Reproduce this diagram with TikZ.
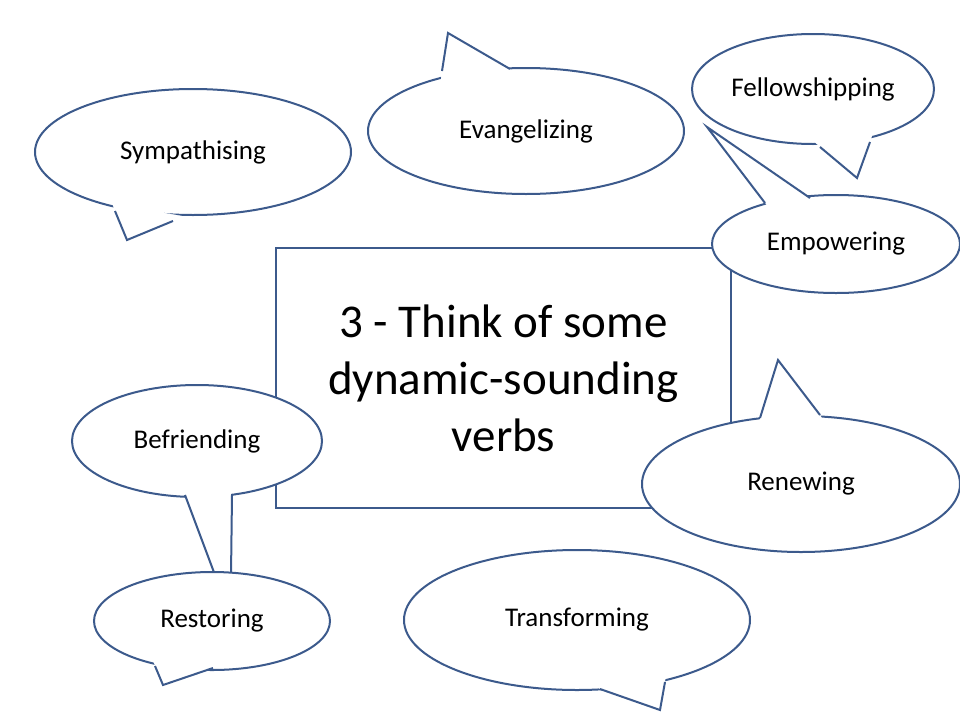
\documentclass[tikz,border=0pt]{standalone}
\usepackage{fontspec}
\setmainfont{Carlito}
\usetikzlibrary{calc}
\definecolor{bc}{RGB}{60,90,140}
\tikzset{ln/.style={draw=bc, line width=2pt},
  lbl/.style={font=\fontsize{27}{32}\selectfont}}
\newcommand\mycallout[8]{%
  \coordinate (#1-a) at #5; \coordinate (#1-t) at #6; \coordinate (#1-b) at #7;
  \fill[white] #2 ellipse (#3 and #4);
  \begin{scope}[even odd rule]
    \clip (-10,-10) rectangle (970,730) (#1-t) -- ($(#1-t)!1.25!(#1-a)$) -- ($(#1-t)!1.25!(#1-b)$) -- cycle;
    \draw[ln] #2 ellipse (#3 and #4);
  \end{scope}
  \fill[white] (#1-a) -- (#1-t) -- (#1-b) -- cycle;
  \draw[ln] (#1-a) -- (#1-t) -- (#1-b);
  \node[lbl] (#1) at #2 {#8};}
\begin{document}
\begin{tikzpicture}[x=1pt,y=-1pt]
\useasboundingbox (0,0) rectangle (960,720);
\node[ln, fill=white, minimum width=455pt, minimum height=260pt, align=center, font=\fontsize{47}{57}\selectfont, inner sep=0pt] (main) at (503.5,378) {3 - Think of some\\dynamic-sounding\\verbs};
\mycallout{s}{(193,152)}{158}{63}{(115,211)}{(127,240)}{(173,221)}{Sympathising}
\mycallout{ev}{(526,131)}{158}{63}{(442,71)}{(448,33)}{(510,69)}{Evangelizing}
\mycallout{f}{(813,89)}{121}{55}{(820,147)}{(857,178)}{(870,142)}{Fellowshipping}
\mycallout{em}{(836,244)}{124}{49}{(810,198)}{(707,127)}{(765,203)}{Empowering}
\mycallout{r}{(801,484)}{159}{68}{(760,418)}{(778,360)}{(820,415)}{Renewing}
% Befriending (tail reaching Restoring)
\coordinate (b-a) at (185,495); \coordinate (b-b) at (232,495);
\fill[white] (197,441) ellipse (125 and 56);
\begin{scope}[even odd rule]
  \clip (-10,-10) rectangle (970,730) (186,480) -- (231,480) -- (231,500) -- (186,500) -- cycle;
  \draw[ln] (197,441) ellipse (125 and 56);
\end{scope}
\fill[white] (185,495) -- (215,575) -- (231,575) -- (232,495) -- cycle;
\draw[ln] (b-a) -- (215,575) (b-b) -- (231,575);
\node[lbl] (b) at (197,441) {Befriending};
\mycallout{rs}{(212,621)}{118}{49}{(155,666)}{(163,685)}{(213,668)}{Restoring}
\mycallout{t}{(577,620)}{173}{70}{(600,689)}{(660,710)}{(665,682)}{Transforming}
\end{tikzpicture}
\end{document}
